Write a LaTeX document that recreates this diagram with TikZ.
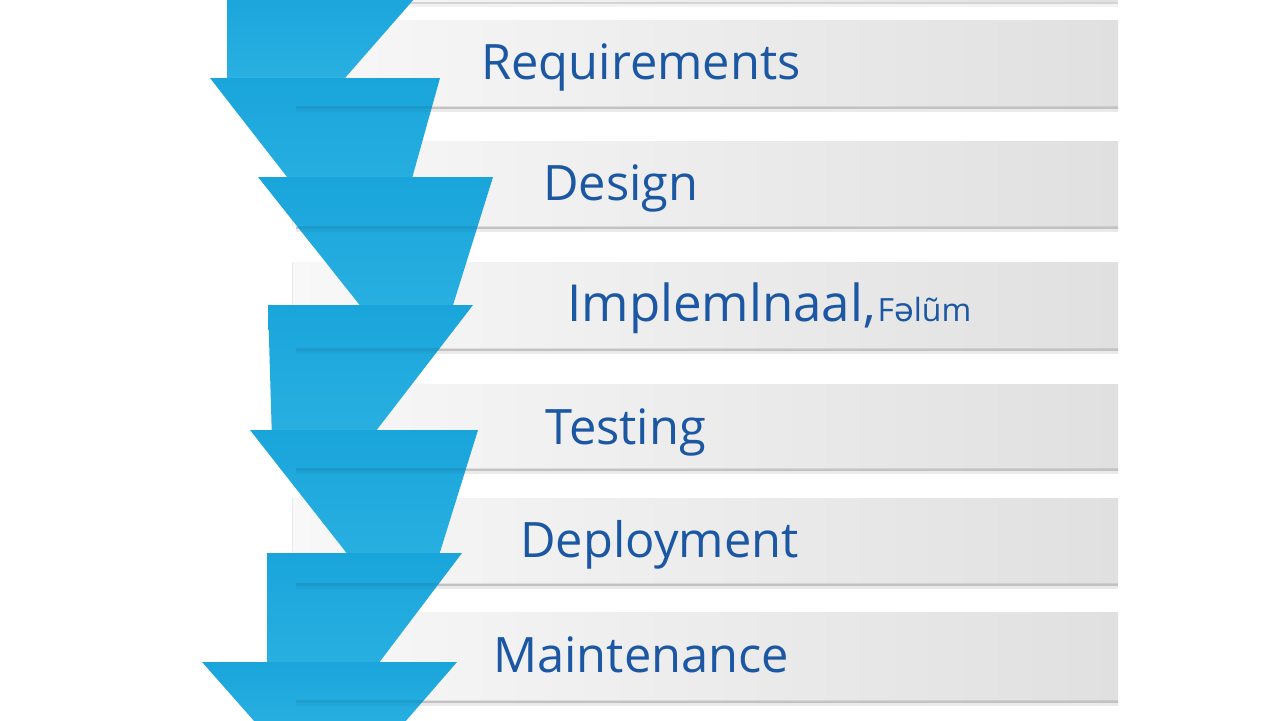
\documentclass[tikz,border=0pt]{standalone}
\usepackage{fontspec}
\setmainfont{Open Sans}
\newfontfamily\dvs{DejaVu Sans}
\definecolor{txtblue}{RGB}{27,87,163}
\definecolor{arrblue}{RGB}{25,165,219}
\definecolor{arrlight}{RGB}{42,176,225}
\definecolor{barleft}{RGB}{248,248,248}
\definecolor{barright}{RGB}{224,224,224}
\begin{document}
\begin{tikzpicture}[x=0.5pt,y=-0.5pt,
  barshape/.style={left color=barleft,right color=barright,draw=none},
  piece/.style={top color=arrblue,bottom color=arrlight,draw=none},
  lab/.style={anchor=base west,text=txtblue,font=\fontsize{24.4}{28}\selectfont,inner sep=0pt}]
\useasboundingbox (0,0) rectangle (1280,720);
\fill[white] (0,0) rectangle (1280,720);
\clip (0,0) rectangle (1280,720);
% bars with their shadows
\foreach \t/\b in {-80/1,20/106,141/226,262/348,384/468,498/583,612/700}{
  \fill[black,opacity=0.05] (296,\b) rectangle (1118,\b+6);
  \fill[black,opacity=0.12] (296,\b) rectangle (1118,\b+3);
  \path[barshape] (292,\t) rectangle (1118,\b);
  \draw[black,opacity=0.05,line width=0.5pt] (292,\t) -- (292,\b);
}
% arrow cascade
\path[piece] (227,-10) -- (422,-10) -- (345,78) -- (227,78) -- cycle;
\path[piece] (210,78) -- (440,78) -- (406,200) -- (305,200) -- cycle;
\path[piece] (258,177) -- (493,177) -- (449,318) -- (370,318) -- cycle;
\path[piece] (268,305) -- (473,305) -- (369,440) -- (272,440) -- cycle;
\path[piece] (250,430) -- (478,430) -- (436,565) -- (356,565) -- cycle;
\path[piece] (267,553) -- (462,553) -- (372,672) -- (267,672) -- cycle;
\path[piece] (202,662) -- (457,662) -- (398,730) -- (262,730) -- cycle;
% faint folds where the bars' shadows cross the arrows
\foreach \b in {106,226,348,468,583,700}{
  \fill[black,opacity=0.03] (296,\b) rectangle (1118,\b+6);
  \fill[black,opacity=0.05] (296,\b) rectangle (1118,\b+3);
}
% labels
\node[lab] (req) at (481,79) {Requirements};
\node[lab] (des) at (543,200) {Design};
\node[lab,font=\fontsize{25.5}{28}\selectfont] (imp) at (567,321) {Implemlnaal,\hspace{1pt}{\fontsize{16}{17}\selectfont F{\dvs ə}lũm}};
\node[lab] (tes) at (545,444) {Testing};
\node[lab] (dep) at (520,557) {Deployment};
\node[lab] (mai) at (493,672) {Maintenance};
\end{tikzpicture}
\end{document}
